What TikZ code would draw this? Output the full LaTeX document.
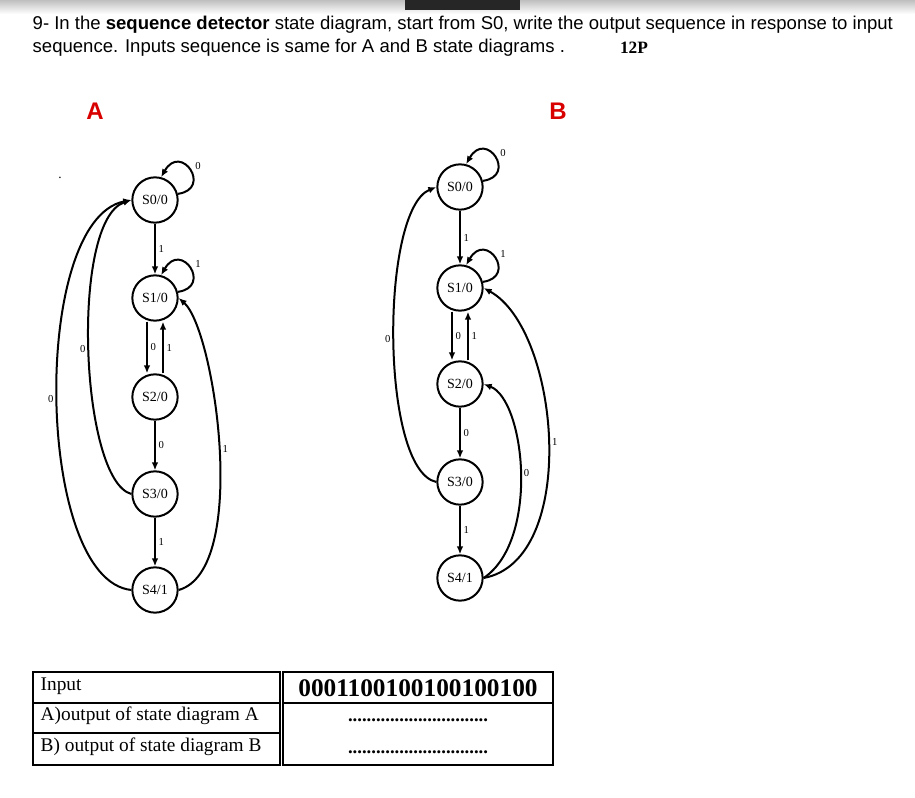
\documentclass[tikz,border=0pt]{standalone}
\usepackage{fontspec}
\setmainfont{Liberation Serif}
\newfontfamily\hsans{Liberation Sans}
\usetikzlibrary{arrows.meta,shapes.geometric}
\begin{document}
\begin{tikzpicture}[x=0.75pt,y=-0.75pt,
  st/.style={draw,line width=1.5pt,ellipse,minimum width=34pt,minimum height=34pt,inner sep=0pt,font=\fontsize{10.5}{12}\selectfont},
  tr/.style={line width=1.5pt,-{Latex[length=6pt,width=5pt]}},
  el/.style={font=\fontsize{8}{9}\selectfont,inner sep=2pt},
  cell/.style={font=\fontsize{14.5}{16}\selectfont}]
\useasboundingbox (0,0) rectangle (915,798);
\shade[top color=black!25,bottom color=white] (0,0) rectangle (915,14);
\fill[black!85] (405,0) rectangle (520,10);
\node[anchor=west,font=\hsans\fontsize{13.9}{16}\selectfont] (h1) at (28,25) {9- In the \textbf{sequence detector} state diagram, start from S0, write the output sequence in response to input};
\node[anchor=west,font=\hsans\fontsize{13.9}{16}\selectfont] (h2) at (28,48) {sequence. Inputs sequence is same for A and B state diagrams .};
\node[font=\bfseries\fontsize{13}{15}\selectfont] (pts) at (634,48) {12P};
\node[font=\hsans\bfseries\fontsize{18}{20}\selectfont,text=red!85!black] (lA) at (95,111) {A};
\node[font=\hsans\bfseries\fontsize{18}{20}\selectfont,text=red!85!black] (lB) at (558,111) {B};
\node[font=\fontsize{10}{10}\selectfont] (dot) at (60,178) {.};
% diagram A
\node[st] (a0) at (155,200) {S0/0};
\node[st] (a1) at (155,298) {S1/0};
\node[st] (a2) at (155,397) {S2/0};
\node[st] (a3) at (155,494) {S3/0};
\node[st] (a4) at (155,590) {S4/1};
\draw[tr] (a0) -- node[el,right]{1} (a1);
\draw[tr] ([xshift=-6pt]a1.south) -- node[el,right]{0} ([xshift=-6pt]a2.north);
\draw[tr] ([xshift=6pt]a2.north) -- node[el,right]{1} ([xshift=6pt]a1.south);
\draw[tr] (a2) -- node[el,right]{0} (a3);
\draw[tr] (a3) -- node[el,right]{1} (a4);
\draw[tr] (a0.15) .. controls +(35,-5) and +(20,-35) .. node[el,above right,pos=0.45]{0} (a0.75);
\draw[tr] (a1.15) .. controls +(35,-5) and +(20,-35) .. node[el,above right,pos=0.45]{1} (a1.75);
\draw[tr] (a3.west) .. controls (80,480) and (70,220) .. node[el,pos=0.5,left]{0} (a0.west);
\draw[tr] (a4.west) .. controls (35,580) and (30,220) .. node[el,pos=0.5,left]{0} (a0.west);
\draw[tr] (a4.east) .. controls (250,570) and (215,330) .. node[el,pos=0.5,right]{1} (a1.east);
% diagram B
\node[st] (b0) at (460,187) {S0/0};
\node[st] (b1) at (460,288) {S1/0};
\node[st] (b2) at (460,384) {S2/0};
\node[st] (b3) at (460,482) {S3/0};
\node[st] (b4) at (460,578) {S4/1};
\draw[tr] (b0) -- node[el,right]{1} (b1);
\draw[tr] ([xshift=-6pt]b1.south) -- node[el,right]{0} ([xshift=-6pt]b2.north);
\draw[tr] ([xshift=6pt]b2.north) -- node[el,right]{1} ([xshift=6pt]b1.south);
\draw[tr] (b2) -- node[el,right]{0} (b3);
\draw[tr] (b3) -- node[el,right]{1} (b4);
\draw[tr] (b0.15) .. controls +(35,-5) and +(20,-35) .. node[el,above right,pos=0.45]{0} (b0.75);
\draw[tr] (b1.15) .. controls +(35,-5) and +(20,-35) .. node[el,above right,pos=0.45]{1} (b1.75);
\draw[tr] (b3.west) .. controls (380,470) and (380,210) .. node[el,pos=0.5,left]{0} (b0.west);
\draw[tr] (b4.east) .. controls (580,560) and (560,330) .. node[el,pos=0.5,right]{1} (b1.east);
\draw[tr] (b4.east) .. controls (540,540) and (525,400) .. node[el,pos=0.5,right]{0} (b2.east);
% table
\draw[line width=0.8pt] (33,672) rectangle (280,765);
\draw[line width=0.8pt] (33,703) -- (280,703) (33,733) -- (280,733);
\draw[line width=0.8pt] (283,672) rectangle (553,765);
\draw[line width=0.8pt] (283,703) -- (553,703);
\node[cell,anchor=west] (t1) at (36,686) {Input};
\node[cell,anchor=west] (t2) at (36,716) {A)output of state diagram A};
\node[cell,anchor=west] (t3) at (36,747) {B) output of state diagram B};
\node[cell,font=\bfseries\fontsize{19}{20}\selectfont] (v1) at (418,688) {0001100100100100100};
\node[cell,font=\bfseries\fontsize{14}{14}\selectfont] (v2) at (418,720) {..............................};
\node[cell,font=\bfseries\fontsize{14}{14}\selectfont] (v3) at (418,752) {..............................};
\end{tikzpicture}
\end{document}
